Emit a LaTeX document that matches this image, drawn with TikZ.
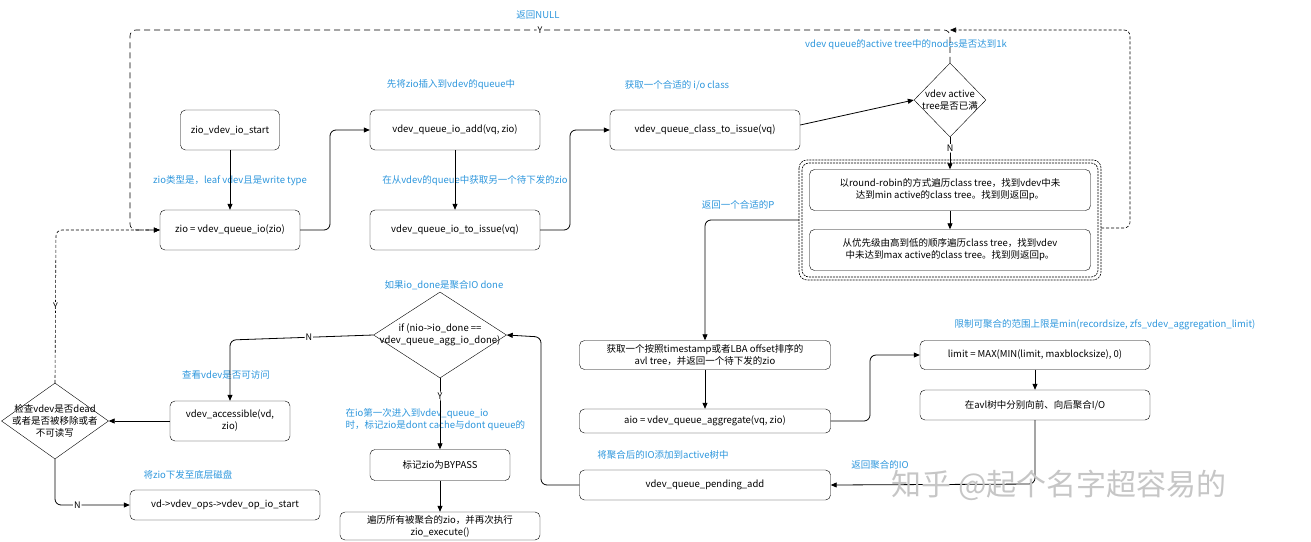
\documentclass[tikz,border=0pt]{standalone}
\usepackage{fontspec}
\setmainfont{Noto Sans CJK SC}
\usetikzlibrary{shapes.geometric,arrows.meta}
\definecolor{lblue}{RGB}{45,150,220}
\begin{document}
\begin{tikzpicture}[x=1pt,y=-1pt,font=\fontsize{9.5}{12}\selectfont,
 box/.style={draw,rounded corners=5pt,minimum height=#1,align=center,inner sep=2pt},
 box/.default=40pt,
 dia/.style 2 args={draw,diamond,minimum width=#1,minimum height=#2,inner sep=0pt},
 dtext/.style={align=center,inner sep=0pt},
 lab/.style={text=lblue,font=\fontsize{9.5}{12}\selectfont,align=left},
 ar/.style={-{Triangle[length=6pt,width=5pt]},thick,rounded corners=6pt},
 ln/.style={thick,rounded corners=6pt},
 dsh/.style={ar,dash pattern=on 6pt off 4pt,semithick},
 dot/.style={ar,dash pattern=on 3pt off 2pt,semithick},
 yn/.style={fill=white,inner sep=1pt,font=\fontsize{9}{10}\selectfont}]
\useasboundingbox (0,0) rectangle (1311,541);
% boxes
\node[box,minimum width=99pt] (start) at (230,130) {zio\_vdev\_io\_start};
\node[box,minimum width=140pt] (qio) at (230,230) {zio = vdev\_queue\_io(zio)};
\node[box,minimum width=170pt] (add) at (455,130) {vdev\_queue\_io\_add(vq, zio)};
\node[box,minimum width=170pt] (issue) at (455,230) {vdev\_queue\_io\_to\_issue(vq)};
\node[box,minimum width=190pt] (cls) at (705,130) {vdev\_queue\_class\_to\_issue(vq)};
\node[dia={72pt}{74pt}] (full) at (950,100) {};
\node[dtext] at (full.center) {vdev active\\tree是否已满};
\node[box=41pt,minimum width=281pt] (rr) at (950,190) {以round-robin的方式遍历class tree，找到vdev中未\\达到min active的class tree。找到则返回p。};
\node[box=41pt,minimum width=281pt] (pri) at (950,250) {从优先级由高到低的顺序遍历class tree，找到vdev\\中未达到max active的class tree。找到则返回p。};
\draw[semithick,rounded corners=8pt,dash pattern=on 2pt off 1pt] (799,160) rectangle (1101,280);
\draw[semithick,rounded corners=7pt,dash pattern=on 2pt off 1pt] (802,163) rectangle (1098,277);
\coordinate (grpL) at (799,220);
\coordinate (grpR) at (1101,228);
\node[box=29pt,minimum width=251pt] (avl) at (705,355) {获取一个按照timestamp或者LBA offset排序的\\avl tree，并返回一个待下发的zio};
\node[box=24pt,minimum width=251pt] (aio) at (705,421) {aio = vdev\_queue\_aggregate(vq, zio)};
\node[box=29pt,minimum width=230pt] (lim) at (1035,355) {limit = MAX(MIN(limit, maxblocksize), 0)};
\node[box=30pt,minimum width=230pt] (agg) at (1035,405) {在avl树中分别向前、向后聚合I/O};
\node[box=30pt,minimum width=251pt] (pend) at (705,485) {vdev\_queue\_pending\_add};
\node[dia={133pt}{86pt}] (done) at (440,335) {};
\node[dtext] at (done.center) {if (nio->io\_done ==\\vdev\_queue\_agg\_io\_done)};
\node[box=40pt,minimum width=120pt] (acc) at (230,421) {vdev\_accessible(vd,\\zio)};
\node[dia={107pt}{76pt}] (dead) at (55,421) {};
\node[dtext] at (dead.center) {检查vdev是否dead\\或者是否被移除或者\\不可读写};
\node[box=30pt,minimum width=190pt] (op) at (225,505) {vd->vdev\_ops->vdev\_op\_io\_start};
\node[box=31pt,minimum width=140pt] (byp) at (440,465) {标记zio为BYPASS};
\node[box=28pt,minimum width=200pt] (exe) at (440,526) {遍历所有被聚合的zio，并再次执行\\zio\_execute()};
% labels
\node[lab] at (230,181) {zio类型是，leaf vdev且是write type};
\node[lab] at (451,85) {先将zio插入到vdev的queue中};
\node[lab] at (475,181) {在从vdev的queue中获取另一个待下发的zio};
\node[lab] at (677,85) {获取一个合适的 i/o class};
\node[lab] at (538,15) {返回NULL};
\node[lab] at (906,45) {vdev queue的active tree中的nodes是否达到1k};
\node[lab] at (738,205) {返回一个合适的P};
\node[lab] at (1105,325) {限制可聚合的范围上限是min(recordsize, zfs\_vdev\_aggregation\_limit)};
\node[lab] at (663,455) {将聚合后的IO添加到active树中};
\node[lab] at (880,465) {返回聚合的IO};
\node[lab] at (444,285) {如果io\_done是聚合IO done};
\node[lab] at (226,375) {查看vdev是否可访问};
\node[lab] at (188,475) {将zio下发至底层磁盘};
\node[lab,anchor=west] at (342,420) {在io第一次进入到vdev\_queue\_io\\时，标记zio是dont cache与dont queue的};
% connectors
\draw[ar] (start) -- (qio);
\draw[ar] (qio.east) -- (330,230) -- (330,130) -- (add.west);
\draw[ar] (add) -- (issue);
\draw[ar] (issue.east) -- (570,230) -- (570,130) -- (cls.west);
\draw[ar] (cls.east) ++(0,-5) -- (full.west);
\draw[ar] (full) -- node[yn,pos=0.35]{N} (rr);
\draw[ar] (rr) -- (pri);
\draw[dsh] (full.north) -- (950,30) -- node[yn,pos=0.5]{Y} (130,30) -- (130,230) -- (qio.west);
\draw[dot] (grpR) -- (1130,228) -- (1130,30) -- (950,30);
\draw[ar] (grpL) -- (705,220) -- (avl.north);
\draw[ar] (avl) -- (aio);
\draw[ar] (aio.east) -- (870,421) -- (870,355) -- (lim.west);
\draw[ar] (lim) -- (agg);
\draw[ar] (agg.south) -- (1035,484) -- (pend.east);
\draw[ar] (pend.west) -- (541,485) -- (541,337) -- (done.east);
\draw[ar] (done.west) -- node[yn,pos=0.45]{N} (230,340) -- (acc.north);
\draw[ar] (acc) -- (dead);
\draw[dot] (dead.north) -- node[yn]{Y} (56,230) -- (qio.west);
\draw[ar] (dead.south) -- (55,505) -- node[yn,pos=0.3]{N} (op.west);
\draw[ar] (done.south) -- node[yn,pos=0.25]{Y} (byp);
\draw[ar] (byp) -- (exe);
% watermark
\node[text=gray!45,font=\fontsize{30}{34}\selectfont] at (1059,485) {知乎 @起个名字超容易的};
\end{tikzpicture}
\end{document}
